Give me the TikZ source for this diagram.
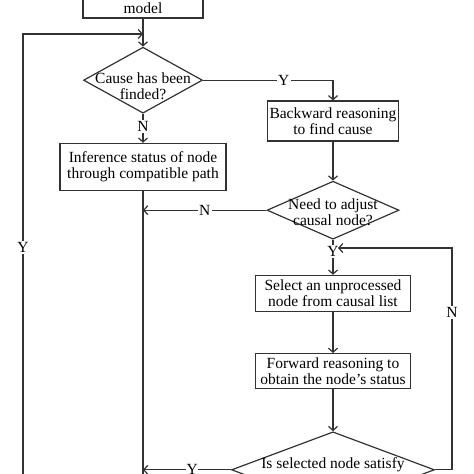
\documentclass[tikz,border=0pt]{standalone}
\usepackage{fontspec}
\setmainfont{Liberation Serif}
\usepackage{tikz}
\usetikzlibrary{shapes.geometric,arrows.meta,positioning}
\definecolor{linegray}{RGB}{50,50,50}

\begin{document}
\begin{tikzpicture}[
    x=1pt, y=1pt,
    font=\fontsize{15.5}{16}\selectfont,
    box/.style={rectangle, draw=linegray, line width=1.2pt, align=center, inner sep=0pt},
    decision/.style={diamond, draw=linegray, line width=1.2pt, inner sep=0pt},
    arrow/.style={-{Straight Barb[length=4pt, width=9pt]}, line width=1.2pt, draw=linegray},
    lbl/.style={fill=white, inner sep=1.5pt}
]
\useasboundingbox (0,0) rectangle (474,474);
\clip (0,0) rectangle (474,474);

\node[box, minimum width=120pt, minimum height=20pt] (model) at (143,466) {model};

\node[decision, below=28pt of model, minimum width=119pt, minimum height=66pt,
      label={[align=center, yshift=-6pt]center:Cause has been\\finded?}] (found) {};

\node[box, below=29pt of found, minimum width=166pt, minimum height=47pt] (infer) {Inference status of node\\through compatible path};

\node[box, minimum width=131pt, minimum height=40pt] (backward) at (333,353) {Backward reasoning\\to find cause};

\node[decision, below=39pt of backward, minimum width=132pt, minimum height=58pt,
      label={[align=center, yshift=-2pt]center:Need to adjust\\causal node?}] (adjust) {};

\node[box, below=35pt of adjust, minimum width=155pt, minimum height=36pt] (select) {Select an unprocessed\\node from causal list};

\node[box, below=41pt of select, minimum width=155pt, minimum height=35pt] (forward) {Forward reasoning to\\obtain the node's status};

\node[decision, below=42pt of forward, minimum width=203pt, minimum height=76pt,
      label={[yshift=5pt]center:Is selected node satisfy}] (satisfy) {};

% loose ends and joins
\coordinate (join) at (143,440);
\coordinate (loopbot) at (23,-20);
\coordinate (mainbot) at (143,-20);
\coordinate (corner) at (452,226);
\coordinate (back) at (338,226);

\draw[arrow] (model) -- (found);
\draw[arrow] (loopbot) -- node[lbl, pos=0.535] {Y} (loopbot |- join) -- (join);
\draw[arrow] (found.east) -- node[lbl, pos=0.62] {Y} (found.east -| backward) -- (backward);
\draw[arrow] (found) -- node[lbl, pos=0.45] {N} (infer);
\draw[arrow] (backward) -- (adjust);
\draw[arrow] (adjust.west) -- node[lbl] {N} (adjust.west -| infer);
\draw[line width=1.2pt, draw=linegray] (infer) -- (mainbot);
\draw[arrow] (adjust) -- node[lbl, pos=0.34] {Y} (select);
\draw[arrow] (select) -- (forward);
\draw[arrow] (forward) -- (satisfy);
\draw[arrow] (satisfy.west) -- node[lbl, inner sep=0.5pt, pos=0.44] {Y} (satisfy.west -| infer);
\draw[arrow] (satisfy.east) -| node[lbl, pos=0.855] {N} (corner) -- (back);

\end{tikzpicture}
\end{document}
